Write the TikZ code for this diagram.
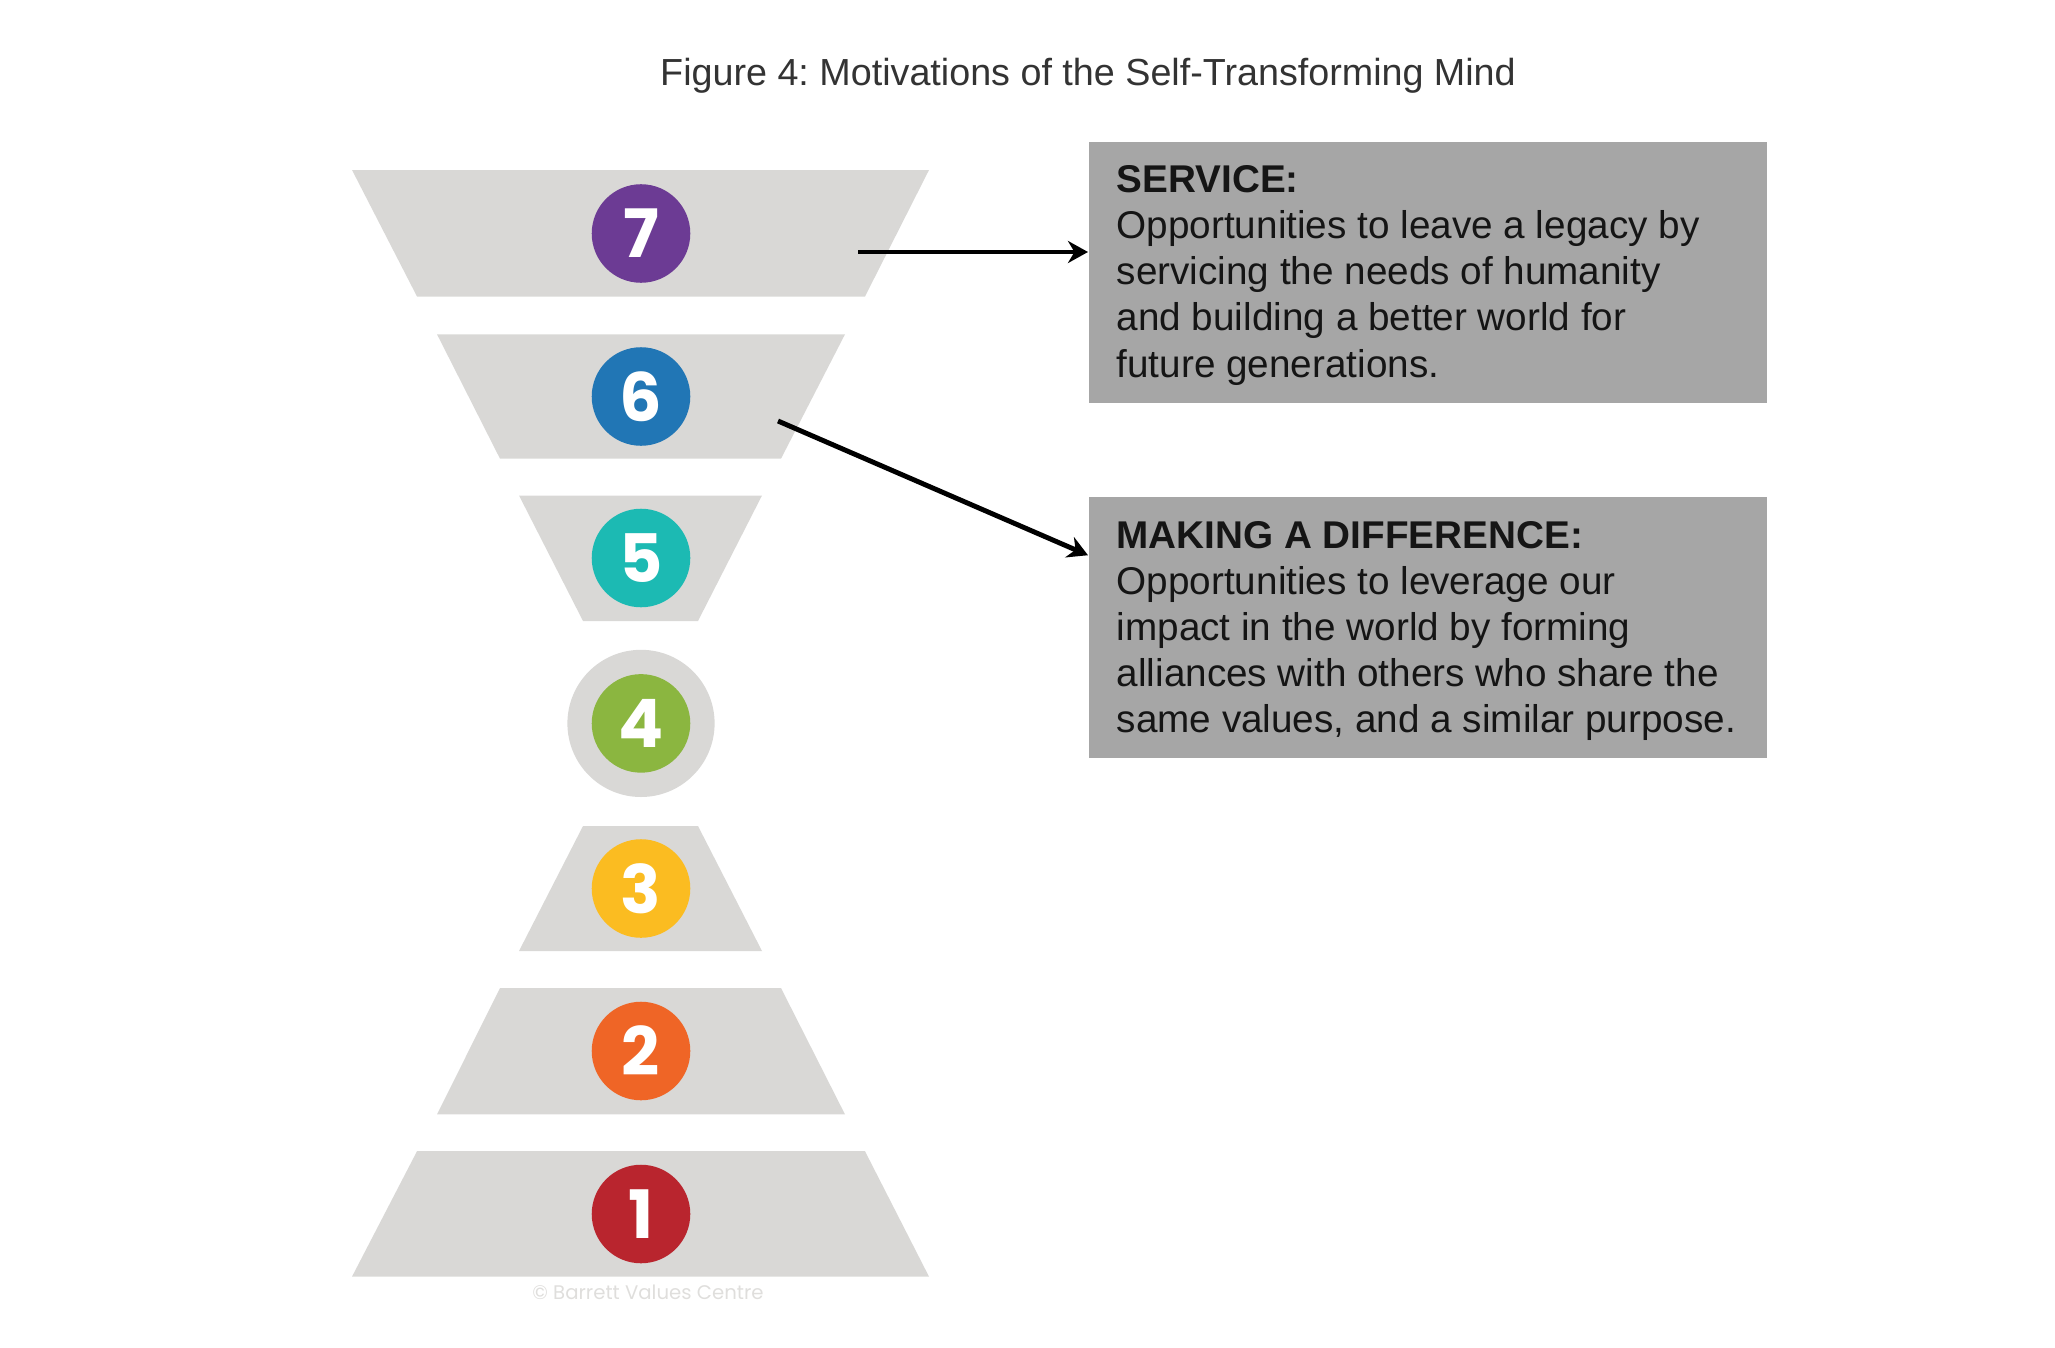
\documentclass[tikz,border=0pt]{standalone}
\usepackage{fontspec}
\setmainfont{Liberation Sans}
\newfontfamily\numfont{Poppins}
\usepackage{xcolor}
\usepackage{tikz}
\usetikzlibrary{positioning,arrows.meta}
\frenchspacing

\definecolor{layergray}{HTML}{D9D8D6}
\definecolor{boxgray}{HTML}{A6A6A6}
\definecolor{titlegray}{HTML}{333333}
\definecolor{textdark}{HTML}{151515}
\definecolor{lvlseven}{HTML}{6C3B94}
\definecolor{lvlsix}{HTML}{2176B5}
\definecolor{lvlfive}{HTML}{1CBAB3}
\definecolor{lvlfour}{HTML}{8BB640}
\definecolor{lvlthree}{HTML}{FBBC21}
\definecolor{lvltwo}{HTML}{EF6526}
\definecolor{lvlone}{HTML}{B9252E}

\tikzset{
  layer/.style={fill=layergray},
  badge/.style={circle, minimum size=0.985cm, inner sep=0pt, text=white,
    font={\numfont\bfseries\fontsize{19}{20}\selectfont}},
  infobox/.style={fill=boxgray, minimum width=6.78cm, minimum height=2.61cm,
    inner sep=0pt, anchor=north west},
  infotext/.style={align=left, inner sep=0pt, anchor=north west, text=textdark,
    font={\fontsize{11}{13.1}\selectfont}},
  link/.style={-{Stealth[length=0.2cm,width=0.22cm]}, line width=1.4pt, black}
}

\begin{document}
\begin{tikzpicture}[x=0.01cm, y=0.01cm]
\useasboundingbox (0,0) rectangle (2055,1347);

% title
\node[text=titlegray, font={\fontsize{10.72}{13}\selectfont}] (title) at (1088,1271)
  {Figure 4: Motivations of the Self-Transforming Mind};

% funnel layers
\fill[layer] (352,1177) -- (929,1177) -- (865,1050.5) -- (417,1050.5) -- cycle;
\fill[layer] (437,1012.7) -- (845,1012.7) -- (781,888.3) -- (500,888.3) -- cycle;
\fill[layer] (519,851.5) -- (762,851.5) -- (698,726) -- (583,726) -- cycle;
\fill[layer] (641,623.6) circle (73.6);
\fill[layer] (583,521) -- (698,521) -- (762,396) -- (519,396) -- cycle;
\fill[layer] (500,359) -- (781,359) -- (845,232.6) -- (437,232.6) -- cycle;
\fill[layer] (417,195.8) -- (865,195.8) -- (929,70.4) -- (352,70.4) -- cycle;

% level badges
\node[badge, fill=lvlseven] (l7) at (641,1113.5) {7};
\node[badge, fill=lvlsix] (l6) at (641,950.5) {6};
\node[badge, fill=lvlfive] (l5) at (641,789) {5};
\node[badge, fill=lvlfour] (l4) at (641,623.6) {4};
\node[badge, fill=lvlthree] (l3) at (641,458.5) {3};
\node[badge, fill=lvltwo] (l2) at (641,296) {2};
\node[badge, fill=lvlone] (l1) at (641,133) {1};

\node[text=layergray!85, font={\numfont\fontsize{5.6}{6}\selectfont}] (credit) at (648,55)
  {\textcopyright{} Barrett Values Centre};

% text boxes
\node[infobox] (service) at (1088,1206) {};
\node[infotext] (servicetxt) at ([shift={(0.28cm,-0.24cm)}]service.north west)
  {\textbf{SERVICE:}\\
   Opportunities to leave a legacy by\\
   servicing the needs of humanity\\
   and building a better world for\\
   future generations.};

\node[infobox] (diff) at (1088,850.5) {};
\node[infotext] (difftxt) at ([shift={(0.28cm,-0.24cm)}]diff.north west)
  {\textbf{MAKING A DIFFERENCE:}\\
   Opportunities to leverage our\\
   impact in the world by forming\\
   alliances with others who share the\\
   same values, and a similar purpose.};

% arrows
\coordinate (s7) at (858,1095);
\coordinate (s6) at (778,926);
\draw[link] (s7) -- (s7 -| service.west);
\draw[link] (s6) -- ([yshift=-0.587cm]diff.north west);
\end{tikzpicture}
\end{document}
